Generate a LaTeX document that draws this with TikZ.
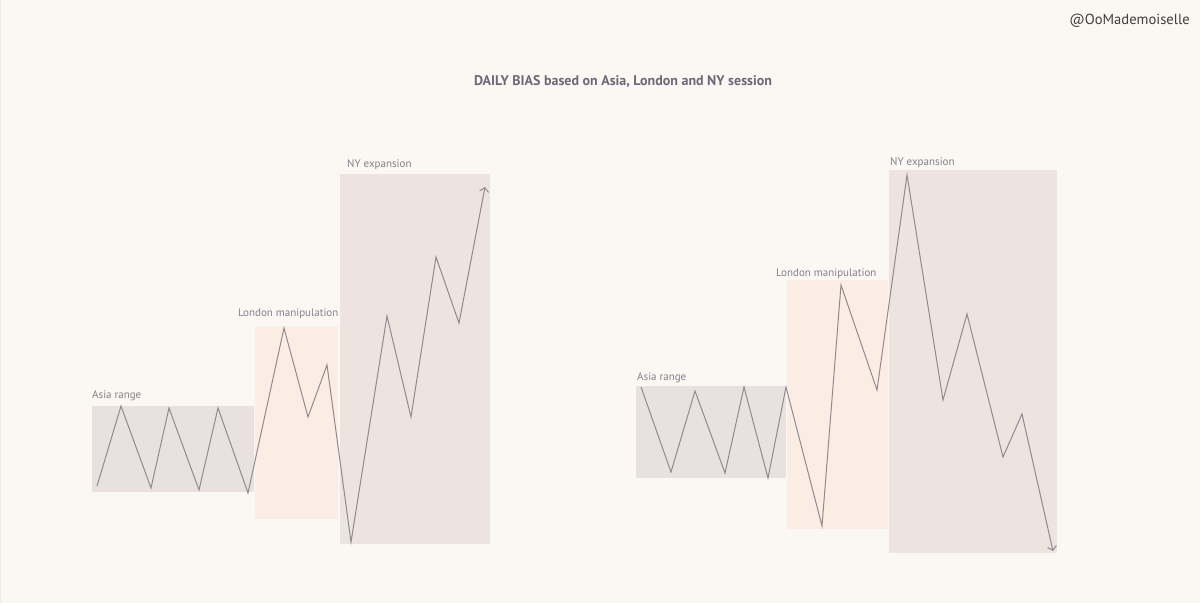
\documentclass[tikz,border=0pt]{standalone}
\usepackage{fontspec}
\setmainfont{PT Sans}
\usetikzlibrary{arrows.meta}
\definecolor{bg}{HTML}{FBF7F3}
\definecolor{asiac}{HTML}{E9E1E0}
\definecolor{londc}{HTML}{FCEDE4}
\definecolor{nyc}{HTML}{EDE4DF}
\definecolor{linec}{HTML}{8F8A90}
\definecolor{txtc}{HTML}{85818C}
\definecolor{titlec}{HTML}{6C6878}
\begin{document}
\begin{tikzpicture}[x=1pt,y=-1pt,
  lbl/.style={anchor=base west,inner sep=0pt,text=txtc,font=\fontsize{11}{13}\selectfont},
  price/.style={draw=linec,line width=1pt,line join=miter},
  pricearrow/.style={price,-{Straight Barb[length=4pt,width=9pt]}}]
\useasboundingbox[fill=bg] (0,0) rectangle (1200,603);
\draw[black!8,line width=1pt] (0.5,0) -- (0.5,603);
% title and handle
\node[anchor=base,inner sep=0pt,text=titlec,font=\fontsize{14}{16}\bfseries\selectfont] (title) at (623,85) {DAILY BIAS based on Asia, London and NY session};
\node[anchor=base east,inner sep=0pt,text=black!75,font=\fontsize{14.6}{17}\selectfont] (handle) at (1190,24) {@OoMademoiselle};
% ---- left chart ----
\fill[asiac] (92,406) rectangle (254,492);
\fill[londc] (255,326) rectangle (338,519);
\fill[nyc] (340,174) rectangle (490,544);
\node[lbl] (la1) at (92,398) {Asia range};
\node[lbl] (ll1) at (238,316) {London manipulation};
\node[lbl] (ln1) at (347,167) {NY expansion};
\draw[pricearrow] (97,486) -- (121,406) -- (151,488) -- (169,408) -- (199,490) -- (218,408) -- (248,493)
  -- (284,328) -- (308,417) -- (327,365) -- (351,542) -- (387,316) -- (411,417) -- (436,257) -- (459,323) -- (485,187);
% ---- right chart ----
\fill[asiac] (636,386) rectangle (786,478);
\fill[londc] (787,280) rectangle (888,529);
\fill[nyc] (889,170) rectangle (1057,553);
\node[lbl] (la2) at (637,380) {Asia range};
\node[lbl] (ll2) at (776,276) {London manipulation};
\node[lbl] (ln2) at (890,165) {NY expansion};
\draw[pricearrow] (641,387) -- (671,472) -- (695,391) -- (725,473) -- (744,387) -- (768,478) -- (786,387)
  -- (822,526) -- (841,285) -- (877,390) -- (907,175) -- (943,400) -- (967,314) -- (1003,457) -- (1022,414) -- (1053,551);
\end{tikzpicture}
\end{document}
